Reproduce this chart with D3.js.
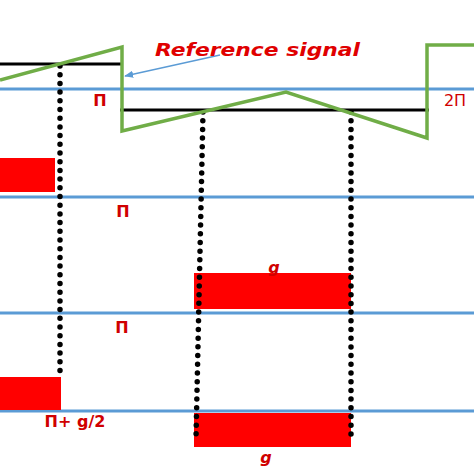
<!DOCTYPE html>
<html>
<head>
<meta charset="utf-8">
<script src="https://cdn.jsdelivr.net/npm/d3@7"></script>
<style>
  body { margin: 0; background: #fff; }
</style>
</head>
<body>
<script>
// Diagram values (units = picture units 0..474)
var axisLevels = [89, 197, 313, 411];               // blue horizontal lines
var signalX = [0, 122, 122, 286, 427, 427, 474];     // reference signal (green)
var signalY = [80, 47, 131, 92, 138, 45, 45];
var levelStart = [0, 120];                           // black comparison levels
var levelEnd = [123, 429];
var levelY = [64, 110];
var dotX1 = [60, 203, 351];                          // dotted projections
var dotX2 = [60, 196, 351];
var dotY1 = [66, 112, 112];
var dotY2 = [377, 438, 434];
var barX0 = [0, 194, 0, 194];                        // red pulses
var barX1 = [55, 351, 61, 351];
var barY0 = [158, 273, 377, 413];
var barY1 = [192, 309, 410, 447];
var labels = ["Π", "2Π", "Π", "Π", "Π+ g/2", "g", "g"];
var labelX = [100, 455, 123, 122, 75, 274, 266];
var labelY = [106, 106, 217, 333, 427, 273, 463];

var width = 474, height = 474;

const svg = d3.select('body')
  .append('svg')
    .attr('width', width)
    .attr('height', height);

var x = d3.scaleLinear().domain([0, 474]).range([0, width]);
var y = d3.scaleLinear().domain([0, 474]).range([0, height]);

// arrow marker
svg.append("defs").append("marker")
    .attr("id", "arrow")
    .attr("viewBox", "0 0 10 10")
    .attr("refX", 9).attr("refY", 5)
    .attr("markerWidth", 7).attr("markerHeight", 7)
    .attr("orient", "auto")
  .append("path")
    .attr("d", "M0,1L10,5L0,9Z")
    .attr("fill", "#5b9bd5");

// blue lines
svg.selectAll("line.axis")
  .data(axisLevels)
  .enter()
  .append("line")
    .attr("class", "axis")
    .attr("x1", x(0)).attr("x2", x(474))
    .attr("y1", function(d) { return y(d); })
    .attr("y2", function(d) { return y(d); })
    .attr("stroke", "#5b9bd5")
    .attr("stroke-width", 3);

// red bars
svg.selectAll("rect.bar")
  .data(barX0)
  .enter()
  .append("rect")
    .attr("class", "bar")
    .attr("x", function(d) { return x(d); })
    .attr("y", function(d, i) { return y(barY0[i]); })
    .attr("width", function(d, i) { return x(barX1[i]) - x(d); })
    .attr("height", function(d, i) { return y(barY1[i]) - y(barY0[i]); })
    .attr("fill", "#ff0000");

// dotted projections
svg.selectAll("line.dot")
  .data(dotX1)
  .enter()
  .append("line")
    .attr("class", "dot")
    .attr("x1", function(d) { return x(d); })
    .attr("x2", function(d, i) { return x(dotX2[i]); })
    .attr("y1", function(d, i) { return y(dotY1[i]); })
    .attr("y2", function(d, i) { return y(dotY2[i]); })
    .attr("stroke", "#000")
    .attr("stroke-width", 5.5)
    .attr("stroke-linecap", "round")
    .attr("stroke-dasharray", "0,8.7");

// black levels
svg.selectAll("line.level")
  .data(levelY)
  .enter()
  .append("line")
    .attr("class", "level")
    .attr("x1", function(d, i) { return x(levelStart[i]); })
    .attr("x2", function(d, i) { return x(levelEnd[i]); })
    .attr("y1", function(d) { return y(d); })
    .attr("y2", function(d) { return y(d); })
    .attr("stroke", "#000")
    .attr("stroke-width", 3);

// reference signal
var line = d3.line()
  .x(function(d) { return x(d); })
  .y(function(d, i) { return y(signalY[i]); });

svg.append("path")
    .attr("d", line(signalX))
    .attr("fill", "none")
    .attr("stroke", "#70ad47")
    .attr("stroke-width", 3.5);

// annotation
svg.append("line")
    .attr("x1", x(220)).attr("y1", y(55))
    .attr("x2", x(125)).attr("y2", y(76))
    .attr("stroke", "#5b9bd5")
    .attr("stroke-width", 1.3)
    .attr("marker-end", "url(#arrow)");

svg.append("text")
    .attr("x", x(155)).attr("y", y(56))
    .attr("textLength", 205)
    .attr("lengthAdjust", "spacingAndGlyphs")
    .style("font-family", "DejaVu Sans")
    .style("font-weight", "bold")
    .style("font-style", "italic")
    .style("font-size", "18px")
    .attr("fill", "#e00000")
    .text("Reference signal");

svg.selectAll("text.lab")
  .data(labels)
  .enter()
  .append("text")
    .attr("class", "lab")
    .attr("x", function(d, i) { return x(labelX[i]); })
    .attr("y", function(d, i) { return y(labelY[i]); })
    .attr("text-anchor", "middle")
    .style("font-family", "DejaVu Sans")
    .style("font-weight", function(d) { return d == "2Π" ? "normal" : "bold"; })
    .style("font-style", function(d) { return d == "g" ? "italic" : "normal"; })
    .style("font-size", "16px")
    .attr("fill", "#d00000")
    .text(function(d) { return d; });
</script>
</body>
</html>
